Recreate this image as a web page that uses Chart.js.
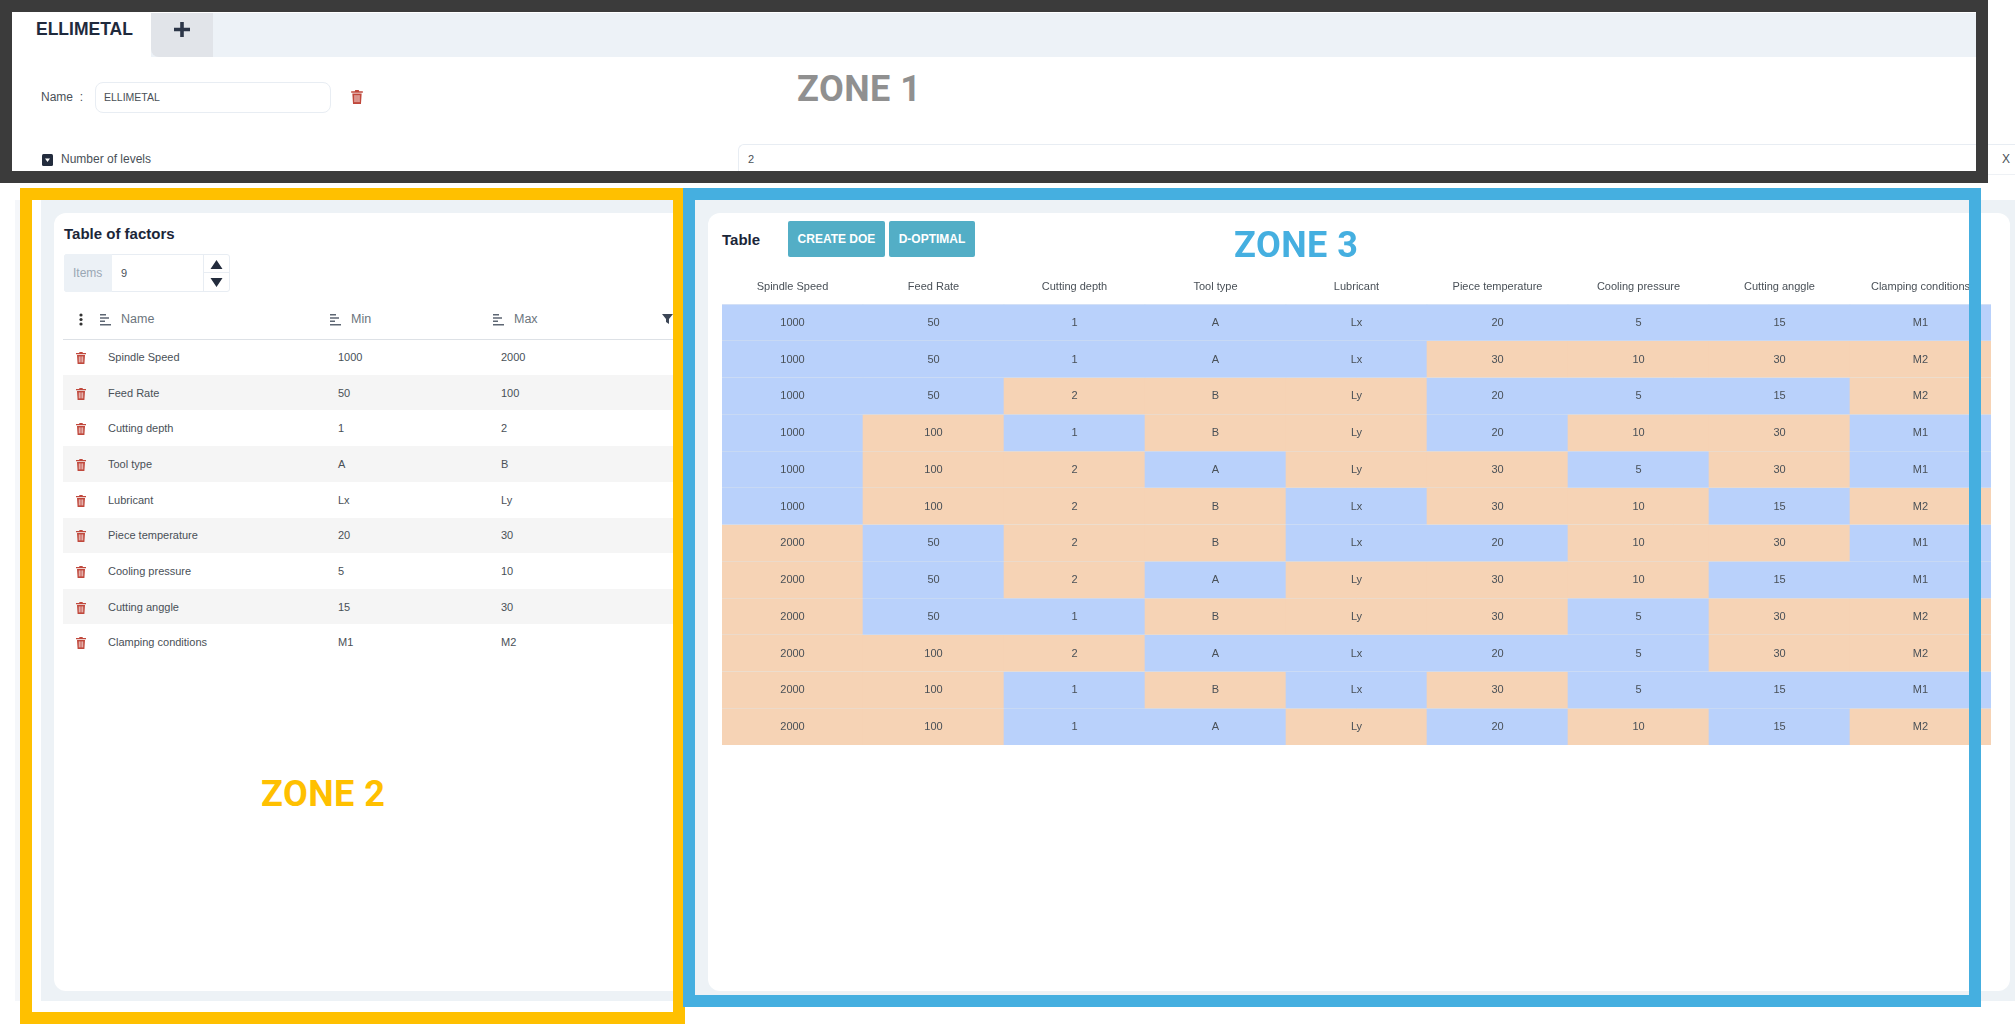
<!DOCTYPE html>
<html>
<head>
<meta charset="utf-8">
<title>ELLIMETAL</title>
<script src="https://cdn.jsdelivr.net/npm/chart.js@4"></script>
<style>
  html, body { margin: 0; padding: 0; background: #fff; }
  body { position: relative; width: 2015px; height: 1025px; overflow: hidden; font-family: "Liberation Sans", Arial, sans-serif; color: #495057; }
  .abs { position: absolute; }
  .txt { position: absolute; white-space: nowrap; line-height: 16px; transform: translateY(-8px); }
  .panel { position: absolute; background: #edf2f6; }
  .card { position: absolute; background: #fff; border-radius: 12px; }
  .frame { position: absolute; box-sizing: border-box; }
  .zone { position: absolute; font-family: Roboto, sans-serif; font-weight: 700; font-size: 36px; letter-spacing: .5px; line-height: 36px; white-space: nowrap; z-index: 6; }
  .btn { position: absolute; top: 221px; height: 36px; background: #53aec6; border-radius: 2px; color: #fff; font-weight: 700; font-size: 12px; line-height: 36px; text-align: center; }
  svg { position: absolute; display: block; }
  #doeChart { position: absolute; left: 722px; top: 268px; }
</style>
</head>
<body>

<!-- zone 1 -->
<div class="abs" style="left:13px;top:13px;width:1963px;height:44px;background:#edf2f7"></div>
<div class="abs" style="left:13px;top:13px;width:138px;height:44px;background:#fff"></div>
<div class="abs" style="left:151px;top:13px;width:62px;height:44px;background:#e1e4e9;border-bottom-left-radius:8px"></div>
<div class="txt" style="left:36px;top:29px;font-size:17.5px;font-weight:700;color:#1f2a3d">ELLIMETAL</div>
<svg style="left:174px;top:22px" width="16" height="15" viewBox="0 0 16 15"><path d="M6.2 0h3.6v5.8H16v3.4H9.8V15H6.2V9.2H0V5.8h6.2z" fill="#2c3648"/></svg>
<div class="txt" style="left:41px;top:97px;font-size:12px">Name &nbsp;:</div>
<div class="abs" style="left:95px;top:82px;width:234px;height:29px;border:1px solid #e8edf3;border-radius:8px"></div>
<div class="txt" style="left:104px;top:97px;font-size:10.5px">ELLIMETAL</div>
<div class="abs" id="topTrash" style="left:351px;top:90px"></div>
<svg style="left:42px;top:154px" width="11" height="12" viewBox="0 0 11 12"><rect width="11" height="12" rx="1.5" fill="#232c3d"/><path d="M3 4.5h5L5.5 8z" fill="#fff"/></svg>
<div class="txt" style="left:61px;top:159px;font-size:12px">Number of levels</div>
<div class="abs" style="left:738px;top:144px;width:1277px;height:31px;border:1px solid #e8edf3;border-right:0;border-bottom:1px solid #eef1f5;box-sizing:border-box;border-top-left-radius:6px"></div>
<div class="txt" style="left:748px;top:159px;font-size:11px">2</div>
<div class="txt" style="left:2002px;top:159px;font-size:12px">X</div>

<!-- background panels -->
<div class="abs" style="left:15px;top:200px;width:6px;height:801px;background:#f5f7fa"></div>
<div class="panel" style="left:41px;top:200px;width:645px;height:801px"></div>
<div class="panel" style="left:690px;top:200px;width:1325px;height:801px"></div>

<!-- zone 2 -->
<div class="card" style="left:54px;top:213px;width:640px;height:778px"></div>
<div class="txt" style="left:64px;top:234px;font-size:15px;font-weight:700;color:#1b2638">Table of factors</div>
<div class="abs" style="left:64px;top:254px;width:166px;height:38px;box-sizing:border-box;border:1px solid #e8edf3;border-radius:3px"></div>
<div class="abs" style="left:64px;top:254px;width:48px;height:38px;background:#ecf1f6;border-radius:3px 0 0 3px"></div>
<div class="abs" style="left:203px;top:254px;width:1px;height:38px;background:#e8edf3"></div>
<div class="abs" style="left:203px;top:272px;width:27px;height:1px;background:#e8edf3"></div>
<div class="txt" style="left:73px;top:273px;font-size:12px;color:#9aa7b4">Items</div>
<div class="txt" style="left:121px;top:273px;font-size:11px">9</div>
<svg style="left:210px;top:260px" width="13" height="27" viewBox="0 0 13 27"><path d="M6.5 0L12.5 9H.5z M.5 18h12L6.5 27z" fill="#232c3d"/></svg>
<svg style="left:79px;top:313px" width="4" height="13" viewBox="0 0 4 13"><circle cx="2" cy="2" r="1.6" fill="#333"/><circle cx="2" cy="6.5" r="1.6" fill="#333"/><circle cx="2" cy="11" r="1.6" fill="#333"/></svg>
<div class="txt" style="left:121px;top:319px;font-size:12.5px;color:#6c757d">Name</div>
<div class="txt" style="left:351px;top:319px;font-size:12.5px;color:#6c757d">Min</div>
<div class="txt" style="left:514px;top:319px;font-size:12.5px;color:#6c757d">Max</div>
<svg style="left:662px;top:314px" width="11" height="10" viewBox="0 0 11 10"><path d="M0 0h11L7 5v5L4 8V5z" fill="#3c4656"/></svg>
<div class="abs" style="left:63px;top:339px;width:612px;height:1px;background:#dde1e6"></div>
<div id="factorRows"></div>

<!-- zone 3 -->
<div class="card" style="left:708px;top:213px;width:1302px;height:778px"></div>
<div class="txt" style="left:722px;top:240px;font-size:15px;font-weight:700;color:#1b2638">Table</div>
<div class="btn" style="left:788px;width:97px">CREATE DOE</div>
<div class="btn" style="left:889px;width:86px">D-OPTIMAL</div>
<canvas id="doeChart" width="1269" height="477" style="width:1269px;height:477px"></canvas>

<!-- zone outlines -->
<div class="frame" style="left:0;top:0;width:1988px;height:183px;border:12.5px solid #3b3b3b;z-index:5"></div>
<div class="frame" style="left:20px;top:188px;width:665px;height:836px;border:12.5px solid #ffc000;z-index:4"></div>
<div class="frame" style="left:683px;top:188px;height:819px;width:1298px;border:12px solid #45afe0;z-index:5"></div>
<div class="zone" style="left:797px;top:71px;color:#909090">ZONE 1</div>
<div class="zone" style="left:261px;top:776px;color:#ffc000">ZONE 2</div>
<div class="zone" style="left:1234px;top:227px;color:#45afe0">ZONE 3</div>

<script>
// factors
const factorNames = ['Spindle Speed', 'Feed Rate', 'Cutting depth', 'Tool type', 'Lubricant', 'Piece temperature', 'Cooling pressure', 'Cutting anggle', 'Clamping conditions'];
const factorMin = ['1000', '50', '1', 'A', 'Lx', '20', '5', '15', 'M1'];
const factorMax = ['2000', '100', '2', 'B', 'Ly', '30', '10', '30', 'M2'];

// design table, one list per factor
const spindleSpeed = ['1000', '1000', '1000', '1000', '1000', '1000', '2000', '2000', '2000', '2000', '2000', '2000'];
const feedRate = ['50', '50', '50', '100', '100', '100', '50', '50', '50', '100', '100', '100'];
const cuttingDepth = ['1', '1', '2', '1', '2', '2', '2', '2', '1', '2', '1', '1'];
const toolType = ['A', 'A', 'B', 'B', 'A', 'B', 'B', 'A', 'B', 'A', 'B', 'A'];
const lubricant = ['Lx', 'Lx', 'Ly', 'Ly', 'Ly', 'Lx', 'Lx', 'Ly', 'Ly', 'Lx', 'Lx', 'Ly'];
const pieceTemperature = ['20', '30', '20', '20', '30', '30', '20', '30', '30', '20', '30', '20'];
const coolingPressure = ['5', '10', '5', '10', '5', '10', '10', '10', '5', '5', '5', '10'];
const cuttingAngle = ['15', '30', '15', '30', '30', '15', '30', '15', '30', '30', '15', '15'];
const clampingConditions = ['M1', 'M2', 'M2', 'M1', 'M1', 'M2', 'M1', 'M1', 'M2', 'M2', 'M1', 'M2'];
const columns = [spindleSpeed, feedRate, cuttingDepth, toolType, lubricant, pieceTemperature, coolingPressure, cuttingAngle, clampingConditions];

const lowColor = '#b9d1fb';
const highColor = '#f6d3b5';

// icons
function trashIcon(w, h) {
  return '<svg style="position:static" width="' + w + '" height="' + h + '" viewBox="0 0 10 12">' +
    '<path d="M3.5 0h3l.4 1H10v1.3H0V1h3.1zM1 3h8l-.6 9H1.6z" fill="#c0483c"/>' +
    '<path d="M3.3 4.4v6M5 4.4v6M6.7 4.4v6" stroke="#fff" stroke-width=".7"/></svg>';
}
function sortIcon(x, y) {
  return '<svg style="left:' + x + 'px;top:' + y + 'px" width="11" height="12" viewBox="0 0 11 12">' +
    '<path d="M0 .7h6M0 4h9M0 7.3h5M0 10.8h11" stroke="#5d6673" stroke-width="1.4"/></svg>';
}
document.getElementById('topTrash').innerHTML = trashIcon(12, 14);

// left table
let rowsHtml = sortIcon(100, 314) + sortIcon(330, 314) + sortIcon(493, 314);
factorNames.forEach(function (name, i) {
  const y = 357 + i * 35.67;
  if (i % 2 === 1) {
    rowsHtml += '<div class="abs" style="left:63px;top:' + (y - 17.8) + 'px;width:612px;height:35.6px;background:#f5f5f5"></div>';
  }
  rowsHtml += '<div class="abs" style="left:76px;top:' + (y - 5) + 'px;line-height:0">' + trashIcon(10, 12) + '</div>';
  rowsHtml += '<div class="txt" style="left:108px;top:' + y + 'px;font-size:11px">' + name + '</div>';
  rowsHtml += '<div class="txt" style="left:338px;top:' + y + 'px;font-size:11px">' + factorMin[i] + '</div>';
  rowsHtml += '<div class="txt" style="left:501px;top:' + y + 'px;font-size:11px">' + factorMax[i] + '</div>';
});
document.getElementById('factorRows').innerHTML = rowsHtml;

// writes the level into each cell
const cellLabels = {
  id: 'cellLabels',
  afterDatasetsDraw(chart) {
    const ctx = chart.ctx;
    ctx.save();
    ctx.font = '11px "Liberation Sans"';
    ctx.fillStyle = '#495057';
    ctx.textAlign = 'center';
    ctx.textBaseline = 'middle';
    chart.data.datasets.forEach(function (ds, r) {
      chart.getDatasetMeta(r).data.forEach(function (bar, c) {
        ctx.fillText(columns[c][r], bar.x, (bar.y + bar.base) / 2 + 0.5);
      });
    });
    ctx.restore();
  }
};

// one stacked dataset per run, every cell is one unit tall
const datasets = spindleSpeed.map(function (_, r) {
  return {
    label: 'Run ' + (r + 1),
    data: columns.map(function () { return 1; }),
    backgroundColor: columns.map(function (col, c) {
      return col[r] === factorMin[c] ? lowColor : highColor;
    }),
    barPercentage: 1,
    categoryPercentage: 1
  };
});

const config = {
  type: 'bar',
  data: { labels: factorNames, datasets },
  options: {
    responsive: false,
    animation: false,
    layout: { padding: 0 },
    plugins: { legend: { display: false }, tooltip: { enabled: false } },
    scales: {
      x: {
        position: 'top',
        stacked: true,
        grid: { display: false },
        border: { display: false },
        afterFit(scale) { scale.height = 36; },
        ticks: {
          autoSkip: false,
          maxRotation: 0,
          padding: 2,
          color: '#495057',
          font: { family: '"Liberation Sans"', size: 11 }
        }
      },
      y: {
        stacked: true,
        reverse: true,
        min: 0,
        max: 12,
        afterFit(scale) { scale.width = 0; },
        border: { display: false },
        grid: { z: 1, drawTicks: false, color: 'rgba(222,230,234,0.4)' },
        ticks: { display: false, stepSize: 1 }
      }
    }
  },
  plugins: [cellLabels]
};

const myChart = new Chart(document.getElementById('doeChart'), config);
</script>
</body>
</html>
